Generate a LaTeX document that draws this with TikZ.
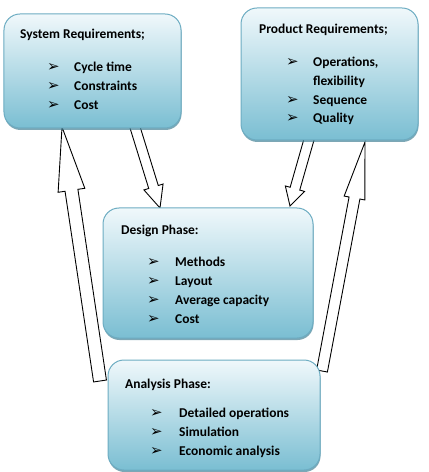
\documentclass[tikz,border=0pt]{standalone}
\usepackage{fontspec}
\setmainfont{Carlito}
\newfontfamily\symfont{DejaVu Sans}
\usetikzlibrary{calc, shadows}

\definecolor{boxtop}{RGB}{240,248,251}
\definecolor{boxbottom}{RGB}{122,190,210}
\definecolor{boxline}{RGB}{108,172,194}
\definecolor{boxshadow}{RGB}{70,130,150}

\tikzset{
  phasebox/.style={rectangle, rounded corners=16bp, draw=boxline, line width=1bp,
    top color=boxtop, bottom color=boxbottom, inner sep=0pt,
    drop shadow={shadow xshift=0.5bp, shadow yshift=-2bp, fill=boxshadow, opacity=0.7}},
  boxtitle/.style={anchor=base west, inner sep=0pt, font=\fontsize{13.5}{19}\selectfont\bfseries},
  itemtext/.style={boxtitle},
  bulletmark/.style={anchor=base west, inner sep=0pt, font=\fontsize{15}{15}\symfont},
  arrowbody/.style={draw=black, line width=0.9bp, fill=white, line join=miter}
}

% block arrow: tail, tip, shaft half width, head half width, head length
\newcommand{\blockarrow}[5]{%
  \coordinate (hb) at ($(#2)!#5!(#1)$);
  \draw[arrowbody] ($(#1)!#3!90:(#2)$) -- ($(hb)!#3!90:(#2)$) -- ($(hb)!#4!90:(#2)$)
    -- (#2) -- ($(hb)!#4!-90:(#2)$) -- ($(hb)!#3!-90:(#2)$) -- ($(#1)!#3!-90:(#2)$) -- cycle;
}

\begin{document}
\begin{tikzpicture}[x=1bp, y=-1bp]
  \useasboundingbox (0,0) rectangle (428,472);

  % Arrow ends
  \coordinate (anaout) at (100,381);
  \coordinate (sysin) at (62,127);
  \coordinate (sysout) at (134,124);
  \coordinate (desin1) at (160,208);
  \coordinate (prodout) at (310,136);
  \coordinate (desin2) at (290,206);
  \coordinate (anaout2) at (322,371);
  \coordinate (prodin) at (365,142);

  % Arrows
  \blockarrow{anaout}{sysin}{6.5bp}{13.5bp}{64bp}
  \blockarrow{sysout}{desin1}{5bp}{10bp}{22bp}
  \blockarrow{prodout}{desin2}{5bp}{10bp}{18bp}
  \blockarrow{anaout2}{prodin}{5.5bp}{10.5bp}{57bp}

  % System requirements
  \node[phasebox, minimum width=177bp, minimum height=114bp] (sysreq) at (92.5,71) {};
  \node[boxtitle] (systitle) at (20,38.5) {System Requirements;};
  \foreach \txt [count=\i from 0] in {Cycle time, Constraints, Cost} {
    \node[bulletmark] (sysb\i) at (47,72+19*\i) {➢};
    \node[itemtext] (sysi\i) at (74,72+19*\i) {\txt};
  }

  % Product requirements
  \node[phasebox, minimum width=177bp, minimum height=132bp] (prodreq) at (329.5,74) {};
  \node[boxtitle] (prodtitle) at (259,33.5) {Product Requirements;};
  \node[bulletmark] (prodb0) at (286,67) {➢};
  \node[itemtext] (prodi0) at (313,67) {Operations,};
  \node[itemtext] (prodi0b) at (313,85.5) {flexibility};
  \node[bulletmark] (prodb1) at (286,104.5) {➢};
  \node[itemtext] (prodi1) at (313,104.5) {Sequence};
  \node[bulletmark] (prodb2) at (286,123) {➢};
  \node[itemtext] (prodi2) at (313,123) {Quality};

  % Design phase
  \node[phasebox, minimum width=210bp, minimum height=130bp] (design) at (208,273) {};
  \node[boxtitle] (destitle) at (121,234.5) {Design Phase:};
  \foreach \txt [count=\i from 0] in {Methods, Layout, Average capacity, Cost} {
    \node[bulletmark] (desb\i) at (147,266+19*\i) {➢};
    \node[itemtext] (desi\i) at (175,266+19*\i) {\txt};
  }

  % Analysis phase
  \node[phasebox, minimum width=212bp, minimum height=110bp] (analysis) at (214,415) {};
  \node[boxtitle] (anatitle) at (125,388.5) {Analysis Phase:};
  \foreach \txt [count=\i from 0] in {Detailed operations, Simulation, Economic analysis} {
    \node[bulletmark] (anab\i) at (150,417.5+19*\i) {➢};
    \node[itemtext] (anai\i) at (179,417.5+19*\i) {\txt};
  }
\end{tikzpicture}
\end{document}
